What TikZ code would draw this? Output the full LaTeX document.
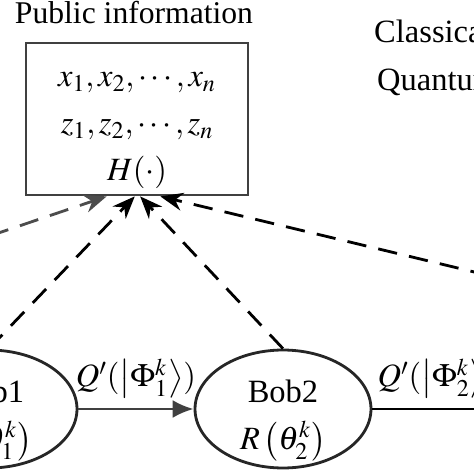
\documentclass[tikz,border=0pt]{standalone}
\usepackage{mathptmx}
\usepackage[no-math]{fontspec}
\setmainfont{Liberation Serif}
\usetikzlibrary{arrows.meta,shapes.geometric,calc}

\begin{document}
\begin{tikzpicture}[x=0.02cm, y=-0.02cm, font=\fontsize{18.5}{26.7}\selectfont,
  box/.style={draw=black!75, line width=1.6pt, minimum width=4.44cm, minimum height=3.04cm},
  bob/.style={draw=black!85, ellipse, line width=1.6pt, minimum width=3.52cm, minimum height=2.36cm},
  inside/.style={align=center, yshift=-0.23cm},
  flow/.style={line width=1.6pt, -{Latex[length=0.42cm, width=0.36cm]}},
  pubarrow/.style={line width=1.6pt, dash pattern=on 11pt off 7pt, -{Stealth[length=0.45cm, width=0.36cm]}}]
 \useasboundingbox (0,0) rectangle (474,474);
 \clip (0,0) rectangle (474,474);
 %Nodes
	\node[anchor=base, font=\fontsize{18}{22}\selectfont] (title) at (134,23) {Public information};
	\node[box, label={[inside]center:$x_1,x_2,\cdots,x_n$\\ $z_1,z_2,\cdots,z_n$\\ $H(\cdot)$}] (box) at (137,119) {};
	\node[anchor=base west] (classical) at (368,42) {Classical};
	\node[anchor=base west] (quantum) at (371,90) {Quantum};
	\node[bob, label={[inside]center:Bob1\\ $R\left(\theta_1^k\right)$}] (bob1) at (-11,409) {};
	\node[bob, label={[inside]center:Bob2\\ $R\left(\theta_2^k\right)$}] (bob2) at (283,409) {};
	\coordinate (bob3) at (503,409);
	\coordinate (alice) at (-40,246);
	\coordinate (far) at (520,283);
	% Arrows
	\draw[flow, draw=black!75] (bob1) -- (bob2) node[midway, above=2pt] (q1) {$Q'(\left|\Phi_1^k\right\rangle)$};
	\draw[flow] (bob2) -- (bob3) node[midway, above=2pt] (q2) {$Q'(\left|\Phi_2^k\right\rangle)$};
	\draw[pubarrow, draw=black!70] (alice) -- ($(box.south west)!0.365!(box.south east)$);
	\draw[pubarrow] (bob1.north) -- ($(box.south west)!0.49!(box.south east)$);
	\draw[pubarrow] (bob2.north) -- ($(box.south west)!0.514!(box.south east)$);
	\draw[pubarrow] (far) -- ($(box.south west)!0.604!(box.south east)$);
\end{tikzpicture}
\end{document}
